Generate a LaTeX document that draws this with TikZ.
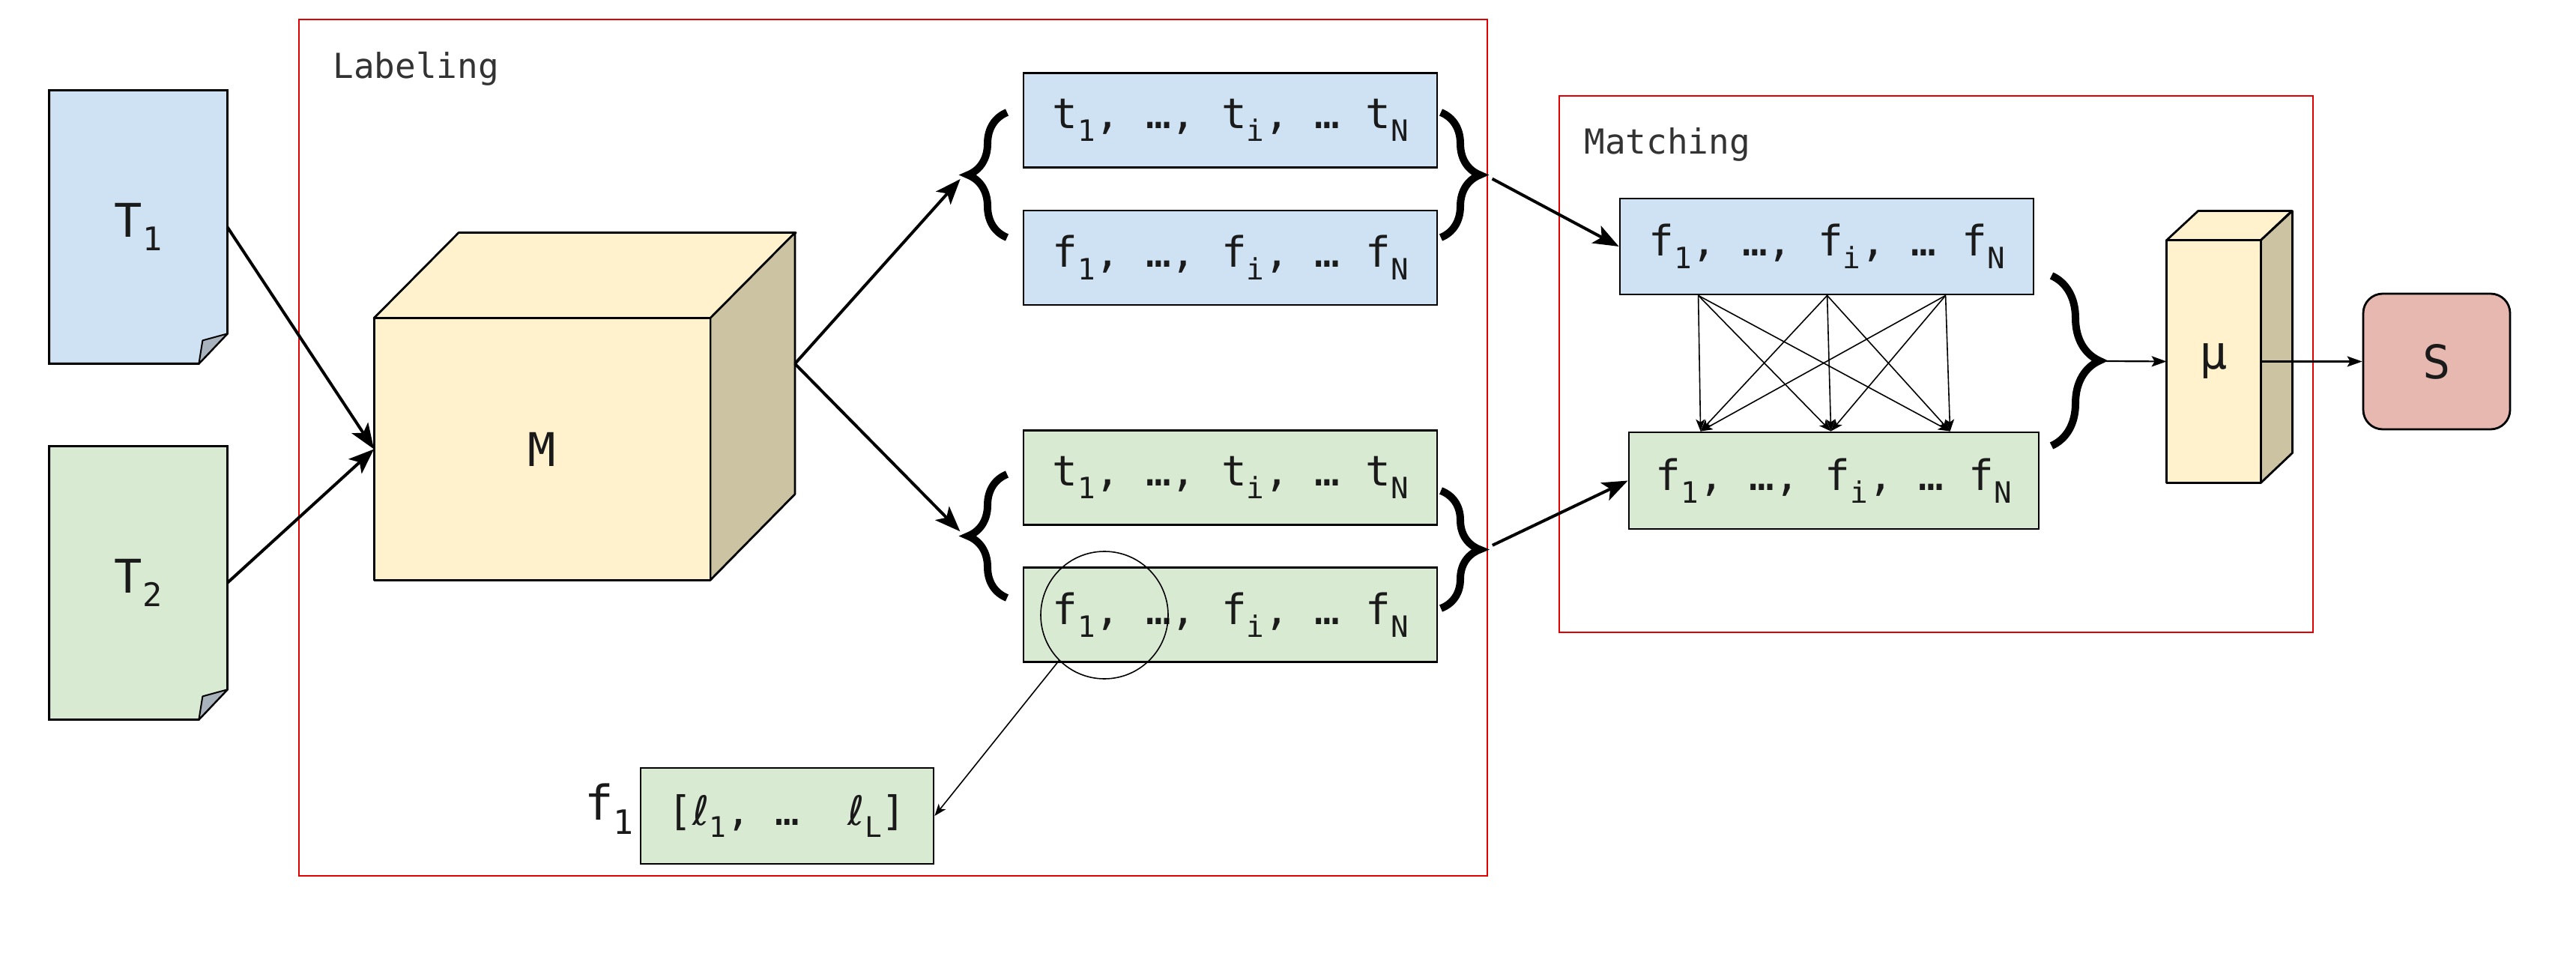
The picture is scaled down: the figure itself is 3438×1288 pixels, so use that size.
\documentclass[tikz,border=0pt]{standalone}
\usepackage{fontspec}
\setmainfont{DejaVu Sans Mono}
\newfontfamily\ellfont{DejaVu Sans}
\usetikzlibrary{arrows.meta,calc,decorations.pathreplacing}
\pgfdeclarelayer{bg}
\pgfsetlayers{bg,main}
\definecolor{blueF}{HTML}{CFE2F3}
\definecolor{greenF}{HTML}{D9EAD3}
\definecolor{yelF}{HTML}{FFF2CC}
\definecolor{sideF}{HTML}{CCC3A3}
\definecolor{pinkF}{HTML}{E6B8AF}
\definecolor{frameR}{HTML}{E30000}
\definecolor{foldF}{HTML}{A9B3BD}
\definecolor{txt}{HTML}{1A1A1A}
\newcommand\sbs[1]{\raisebox{-0.3em}{\scalebox{0.7}{#1}}}
\newcommand\lsym{{\ellfont ℓ}}
\begin{document}
\begin{tikzpicture}[x=0.5pt,y=-0.5pt,
  every node/.style={text=txt},
  listbox/.style={draw,line width=1.4pt,inner sep=0pt,minimum width=276pt,minimum height=63pt,font=\fontsize{28}{34}\selectfont},
  frame/.style={draw=frameR,line width=1.3pt,inner sep=0pt},
  framelabel/.style={anchor=west,inner sep=0pt,font=\fontsize{23}{28}\selectfont,text=black!80},
  facestyle/.style={draw,line width=1.4pt,line join=round},
  bigarrow/.style={line width=2pt,-{Stealth[length=17pt,width=13pt,inset=4pt]}},
  midarrow/.style={line width=1.1pt,-{Stealth[length=10pt,width=7pt,inset=2pt]}},
  finearrow/.style={line width=0.8pt,-{Stealth[length=8pt,width=6pt,inset=2pt]}},
  curlyL/.style={decorate,decoration={brace,amplitude=26pt},line width=5pt},
  curlyR/.style={decorate,decoration={brace,amplitude=32pt},line width=5pt},
  biglabel/.style={font=\fontsize{31}{37}\selectfont},
]
\useasboundingbox (0,0) rectangle (3438,1288);

% frames
\node[frame,minimum width=793pt,minimum height=571.5pt] (labframe) at (1192,597.5) {};
\node[framelabel] (labtxt) at (444,92) {Labeling};
\node[frame,minimum width=503pt,minimum height=358pt] (matframe) at (2584,486) {};
\node[framelabel] (mattxt) at (2114,193) {Matching};

% documents
\node[biglabel,minimum width=118.5pt,minimum height=182pt,inner sep=0pt] (T1) at (184.5,303) {T\sbs{1}};
\node[biglabel,minimum width=118.5pt,minimum height=182pt,inner sep=0pt] (T2) at (184.5,778) {T\sbs{2}};
\begin{pgfonlayer}{bg}
\foreach \d/\c in {T1/blueF,T2/greenF}{
  \draw[facestyle,fill=\c,line join=miter] (\d.north west) -- (\d.north east) -- ($(\d.south east)+(0,-40)$) -- ($(\d.south east)+(-38,0)$) -- (\d.south west) -- cycle;
  \draw[line width=1pt,fill=foldF,line join=round] ($(\d.south east)+(-38,0)$) -- ($(\d.south east)+(-33,-31)$) -- ($(\d.south east)+(0,-40)$) -- cycle;
}
\end{pgfonlayer}

% cube M
\node[biglabel,minimum width=224pt,minimum height=174.5pt,inner sep=0pt] (M) at (723.5,599.5) {M};
\begin{pgfonlayer}{bg}
\draw[facestyle,fill=yelF] (M.north west) -- ++(113,-114) -- ++(450,0) -- (M.north east) -- cycle;
\draw[facestyle,fill=sideF] (M.north east) -- ++(113,-114) -- ++(0,349) -- (M.south east) -- cycle;
\draw[facestyle,fill=yelF] (M.north west) rectangle (M.south east);
\end{pgfonlayer}
\coordinate (Mside) at ($(M.east)+(113,-114)$);

% labeling outputs
\node[listbox,fill=blueF] (ut) at (1642,160.5) {t\sbs{1}, …, t\sbs{i}, … t\sbs{N}};
\node[listbox,fill=blueF] (uf) at (1642,344) {f\sbs{1}, …, f\sbs{i}, … f\sbs{N}};
\node[listbox,fill=greenF] (lt) at (1642,637.5) {t\sbs{1}, …, t\sbs{i}, … t\sbs{N}};
\node[listbox,fill=greenF] (lf) at (1642,820.5) {f\sbs{1}, …, f\sbs{i}, … f\sbs{N}};

% braces
\draw[curlyL] (1344,317) -- (1344,150);
\coordinate (ubl) at (1287,233);
\draw[curlyL] (1344,798) -- (1344,633);
\coordinate (lbl) at (1287,715);
\draw[curlyL] (1923,150) -- (1923,317);
\coordinate (ubr) at (1981,233);
\draw[curlyL] (1923,655) -- (1923,812);
\coordinate (lbr) at (1981,733);

% circle and label list
\node[draw,circle,line width=0.8pt,minimum size=85pt,inner sep=0pt] (circ) at (1474,821) {};
\node[listbox,fill=greenF,minimum width=195.5pt,minimum height=64pt,font=\fontsize{27}{33}\selectfont] (lb) at (1050.5,1089) {[\lsym\sbs{1}, …\ \ \lsym\sbs{L}]};
\node[anchor=east,inner sep=0pt,font=\fontsize{32}{38}\selectfont] (f1lab) at (846,1080) {f\sbs{1}};

% matching boxes
\node[listbox,fill=blueF,minimum height=64pt] (mb) at (2438,329) {f\sbs{1}, …, f\sbs{i}, … f\sbs{N}};
\node[listbox,fill=greenF,minimum width=273.5pt,minimum height=64.5pt] (mg) at (2447.5,641.5) {f\sbs{1}, …, f\sbs{i}, … f\sbs{N}};
\coordinate (s1) at ($(mb.south west)+(106,0)$);
\coordinate (s2) at ($(mb.south west)+(278,0)$);
\coordinate (s3) at ($(mb.south west)+(436,0)$);
\coordinate (e1) at ($(mg.north west)+(97,0)$);
\coordinate (e2) at ($(mg.north west)+(271,0)$);
\coordinate (e3) at ($(mg.north west)+(430,0)$);
\foreach \s in {s1,s2,s3}{\foreach \e in {e1,e2,e3}{\draw[finearrow] (\s) -- (\e);}}

\draw[curlyR] (2738,368) -- (2738,595);
\coordinate (mbr) at (2811,482);

% mu cuboid
\node[biglabel,minimum width=62.5pt,minimum height=161.5pt,inner sep=0pt] (mu) at (2954.5,482.5) {μ};
\begin{pgfonlayer}{bg}
\draw[facestyle,fill=yelF] (mu.north west) -- ++(42,-39) -- ++(125,0) -- (mu.north east) -- cycle;
\draw[facestyle,fill=sideF] (mu.north east) -- ++(42,-39) -- ++(0,323) -- (mu.south east) -- cycle;
\draw[facestyle,fill=yelF] (mu.north west) rectangle (mu.south east);
\end{pgfonlayer}

% S
\node[draw,line width=1.4pt,fill=pinkF,rounded corners=13pt,minimum width=98pt,minimum height=90.5pt,inner sep=0pt,biglabel] (S) at (3252,482.5) {S};

% connectors
\draw[bigarrow] (T1.east) -- (M.west);
\draw[bigarrow] (T2.east) -- (M.west);
\draw[bigarrow,shorten >=4pt] (Mside) -- (ubl);
\draw[bigarrow,shorten >=4pt] (Mside) -- (lbl);
\draw[bigarrow,shorten <=6pt] (ubr) -- (mb.west);
\draw[bigarrow,shorten <=6pt] (lbr) -- (mg.west);
\draw[finearrow] (circ.south west) -- (lb.east);
\draw[midarrow] (mbr) -- (mu.west);
\draw[midarrow] (mu.east) -- (S.west);
\end{tikzpicture}
\end{document}
